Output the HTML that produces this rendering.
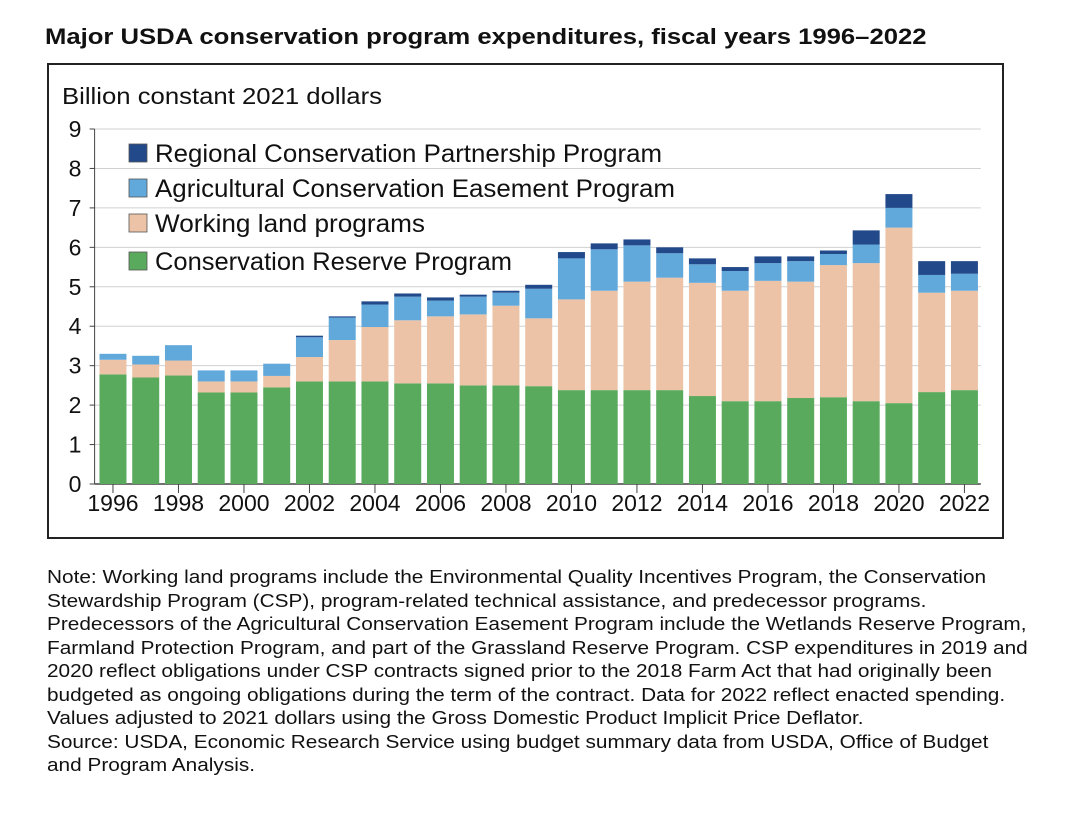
<!DOCTYPE html>
<html><head><meta charset="utf-8"><style>
body{margin:0;background:#fff;width:1070px;height:830px;overflow:hidden;font-family:"Liberation Sans",sans-serif;}
#title{position:absolute;left:45px;top:24px;font-size:22.5px;font-weight:bold;color:#111;transform:scaleX(1.14);transform-origin:left top;white-space:nowrap;}
#frame{position:absolute;left:47px;top:63px;width:957px;height:476px;border:2px solid #222;box-sizing:border-box;}
#note{position:absolute;left:47px;top:566px;font-size:18px;line-height:23.5px;color:#111;white-space:nowrap;transform:scaleX(1.155);transform-origin:left top;}
svg{position:absolute;left:0;top:0;}
</style></head><body>
<div id="title">Major USDA conservation program expenditures, fiscal years 1996–2022</div>
<div id="frame"></div>
<svg id="chart" width="1070" height="830"></svg>
<div id="note">Note: Working land programs include the Environmental Quality Incentives Program, the Conservation<br>Stewardship Program (CSP), program-related technical assistance, and predecessor programs.<br>Predecessors of the Agricultural Conservation Easement Program include the Wetlands Reserve Program,<br>Farmland Protection Program, and part of the Grassland Reserve Program. CSP expenditures in 2019 and<br>2020 reflect obligations under CSP contracts signed prior to the 2018 Farm Act that had originally been<br>budgeted as ongoing obligations during the term of the contract. Data for 2022 reflect enacted spending.<br>Values adjusted to 2021 dollars using the Gross Domestic Product Implicit Price Deflator.<br>Source: USDA, Economic Research Service using budget summary data from USDA, Office of Budget<br>and Program Analysis.</div>
<script>
const years=[1996,1997,1998,1999,2000,2001,2002,2003,2004,2005,2006,2007,2008,2009,2010,2011,2012,2013,2014,2015,2016,2017,2018,2019,2020,2021,2022];
const crp=[2.78,2.7,2.75,2.32,2.32,2.45,2.6,2.6,2.6,2.55,2.55,2.5,2.5,2.48,2.38,2.38,2.38,2.38,2.23,2.1,2.1,2.18,2.2,2.1,2.05,2.33,2.38];
const wlp=[0.37,0.33,0.38,0.28,0.28,0.29,0.62,1.05,1.38,1.6,1.7,1.8,2.02,1.72,2.3,2.52,2.75,2.85,2.87,2.8,3.05,2.95,3.35,3.5,4.45,2.52,2.52];
const acep=[0.15,0.22,0.39,0.28,0.28,0.31,0.5,0.57,0.57,0.6,0.4,0.45,0.33,0.75,1.04,1.05,0.92,0.62,0.47,0.5,0.45,0.52,0.28,0.47,0.5,0.45,0.43];
const rcpp=[0,0,0,0,0,0,0.04,0.03,0.08,0.08,0.08,0.05,0.05,0.1,0.16,0.15,0.15,0.15,0.15,0.1,0.17,0.12,0.09,0.36,0.35,0.35,0.32];
const yTicks=[0,1,2,3,4,5,6,7,8,9];
const seriesNames=["Regional Conservation Partnership Program","Agricultural Conservation Easement Program","Working land programs","Conservation Reserve Program"];
const colors={crp:"#5aaa5e",wlp:"#ecc3a6",acep:"#61a8db",rcpp:"#224a8a"};
const svg=document.getElementById('chart');const NS="http://www.w3.org/2000/svg";
const X0=96.6,X1=980.8,Y0=484,Y1=129,YMAX=9;
const step=(X1-X0)/years.length,bw=27;
const y=v=>Y0-(v/YMAX)*(Y0-Y1);
const xc=i=>X0+step*(i+0.5);
function mk(t,a){const e=document.createElementNS(NS,t);for(const k in a)e.setAttribute(k,a[k]);svg.appendChild(e);return e;}
yTicks.forEach(t=>{
 let g=mk('line',{x1:X0-2,x2:X1,y1:y(t),y2:y(t),stroke:t?'#d0d0d0':'#444','stroke-width':t?1:1.5});
 
 
 let tk=mk('line',{x1:X0-7,x2:X0-2,y1:y(t),y2:y(t),stroke:'#444'});
 
 
 let tx=mk('text',{x:75,y:y(t)+8,'text-anchor':'middle','font-size':23,fill:'#111'});tx.textContent=t;
 
 
});
let ax=mk('line',{x1:X0-2,x2:X0-2,y1:Y1,y2:Y0,stroke:'#444'});


let yt=mk('text',{x:62,y:104,'font-size':23,fill:'#111',textLength:320,lengthAdjust:'spacingAndGlyphs'});yt.textContent='Billion constant 2021 dollars';


years.forEach((yr,i)=>{
 let base=0;
 [['crp',crp],['wlp',wlp],['acep',acep],['rcpp',rcpp]].forEach(([k,arr])=>{
  const v=arr[i];if(v<=0)return;
  const r=mk('rect',{x:xc(i)-bw/2,y:y(base+v),width:bw,height:y(base)-y(base+v),fill:colors[k]});
  
  
  base+=v;
 });
 if(i%2===0){
  let tk=mk('line',{x1:xc(i),x2:xc(i),y1:Y0,y2:Y0+9,stroke:'#444'});
  
  
  let t=mk('text',{x:xc(i),y:Y0+27,'text-anchor':'middle','font-size':23,fill:'#111'});t.textContent=yr;
  
  
 }
});
const legC=[colors.rcpp,colors.acep,colors.wlp,colors.crp];const legY=[153,188,223,261];const legW=[507,520,270,357];
seriesNames.forEach((n,i)=>{
 let r=mk('rect',{x:129,y:legY[i]-9,width:18,height:18,fill:legC[i],stroke:'#555','stroke-width':0.8});
 
 
 let t=mk('text',{x:155,y:legY[i]+9,'font-size':25,fill:'#111',textLength:legW[i],lengthAdjust:'spacingAndGlyphs'});t.textContent=n;
 
 
});
</script>
</body></html>
